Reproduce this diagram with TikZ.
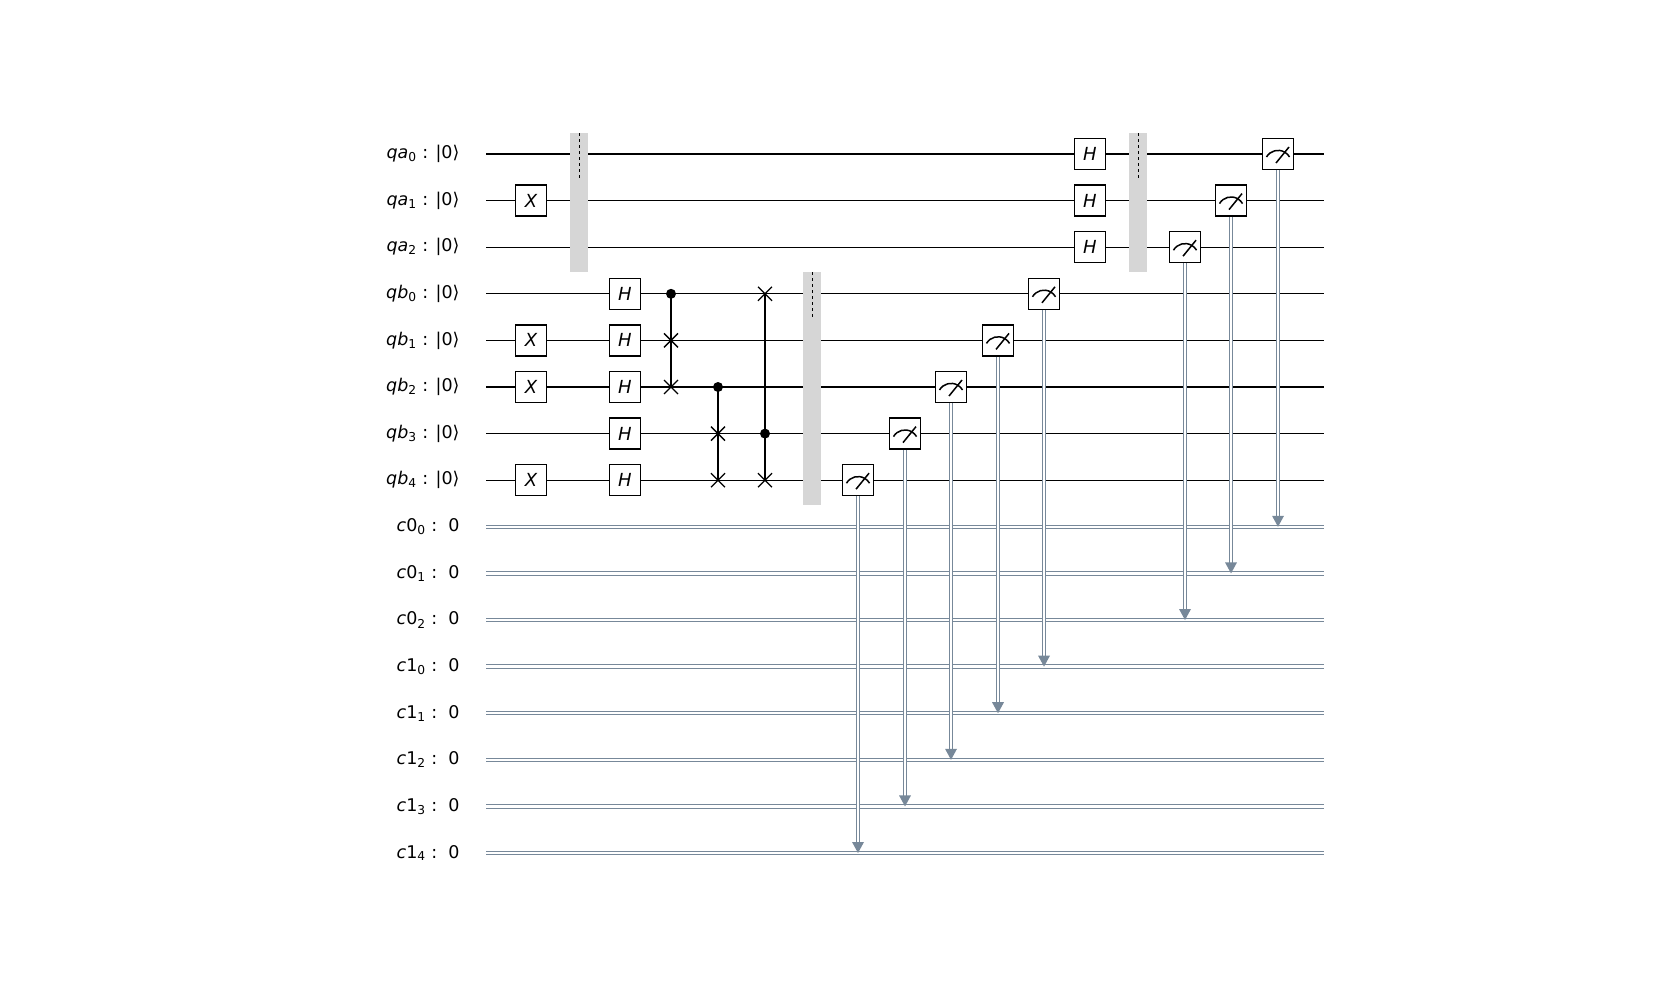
\documentclass[tikz,border=0pt]{standalone}
\usepackage{fontspec}
\setmainfont{DejaVu Sans}
\usetikzlibrary{arrows.meta}
\definecolor{cw}{HTML}{778899}
\definecolor{bar}{HTML}{D6D6D6}
\tikzset{
  gate/.style={draw,line width=1.4pt,fill=white,minimum size=31pt,inner sep=0pt,font=\fontsize{18}{20}\selectfont\itshape},
  qwire/.style={line width=1.1pt},
  cwire/.style={cw,line width=1pt,double distance=2.5pt},
  lbl/.style={anchor=east,font=\fontsize{17.5}{20}\selectfont},
  dot/.style={circle,fill=black,inner sep=0pt,minimum size=10pt},
  sw/.style={line width=1.3pt},
}
\newcommand{\rowy}[1]{-154-46.6*#1}
\newcommand{\meas}[3]{% x, row, target row
  \draw[cwire] (#1,{\rowy{#2}}) -- (#1,{\rowy{#3}+9});
  \fill[cw] (#1-6,{\rowy{#3}+11}) -- (#1+6,{\rowy{#3}+11}) -- (#1,{\rowy{#3}}) -- cycle;
  \node[gate] (m#2) at (#1,{\rowy{#2}}) {};
  \draw[line width=1.5pt] ([xshift=-11.5pt,yshift=-3pt]m#2.center) arc[start angle=150,end angle=30,radius=13.3pt];
  \draw[line width=1.5pt] ([xshift=-2pt,yshift=-9pt]m#2.center) -- ([xshift=11pt,yshift=7pt]m#2.center);
}
\newcommand{\swapx}[2]{\draw[sw] (#1-7,{\rowy{#2}-7}) -- (#1+7,{\rowy{#2}+7}) (#1-7,{\rowy{#2}+7}) -- (#1+7,{\rowy{#2}-7});}
\begin{document}
\begin{tikzpicture}[x=1pt,y=1pt]
\useasboundingbox (0,0) rectangle (1672,-982);
\begin{scope}[xshift=-3pt]
\foreach \n/\s [count=\i from 0] in {qa/0,qa/1,qa/2,qb/0,qb/1,qb/2,qb/3,qb/4}{
  \node[lbl] (l\i) at (466,{\rowy{\i}}) {\textit{\n}\textsubscript{\s} : |0⟩};
  \coordinate (ws\i) at (489,{\rowy{\i}});
  \coordinate (we\i) at (1327,{\rowy{\i}});
  \draw[qwire] (ws\i) -- (we\i);
}
\foreach \n/\s [count=\i from 8] in {0/0,0/1,0/2,1/0,1/1,1/2,1/3,1/4}{
  \node[lbl] (l\i) at (466,{\rowy{\i}}) {\textit{c}\n\textsubscript{\s} :\ \ 0};
  \coordinate (ws\i) at (489,{\rowy{\i}});
  \coordinate (we\i) at (1327,{\rowy{\i}});
  \draw[cwire] (ws\i) -- (we\i);
}
\fill[bar] (573,-133) rectangle (591,-272);
\draw[dashed,line width=1pt] (582,-133) -- (582,-180);
\fill[bar] (806,-272) rectangle (824,-505);
\draw[dashed,line width=1pt] (815,-272) -- (815,-319);
\fill[bar] (1132,-133) rectangle (1150,-272);
\draw[dashed,line width=1pt] (1141,-133) -- (1141,-180);
\foreach \r in {1,4,5,7}{\node[gate] (x\r) at (534,{\rowy{\r}}) {X};}
\foreach \r in {3,4,5,6,7}{\node[gate] (h\r) at (628,{\rowy{\r}}) {H};}
\foreach \r in {0,1,2}{\node[gate] (ha\r) at (1093,{\rowy{\r}}) {H};}
\draw[line width=1.3pt] (674,{\rowy{3}}) -- (674,{\rowy{5}});
\node[dot] (c1) at (674,{\rowy{3}}) {};
\swapx{674}{4}\swapx{674}{5}
\draw[line width=1.3pt] (721,{\rowy{5}}) -- (721,{\rowy{7}});
\node[dot] (c2) at (721,{\rowy{5}}) {};
\swapx{721}{6}\swapx{721}{7}
\draw[line width=1.3pt] (768,{\rowy{3}}) -- (768,{\rowy{7}});
\node[dot] (c3) at (768,{\rowy{6}}) {};
\swapx{768}{3}\swapx{768}{7}
\meas{861}{7}{15}
\meas{908}{6}{14}
\meas{954}{5}{13}
\meas{1001}{4}{12}
\meas{1047}{3}{11}
\meas{1188}{2}{10}
\meas{1234}{1}{9}
\meas{1281}{0}{8}
\end{scope}
\end{tikzpicture}
\end{document}
